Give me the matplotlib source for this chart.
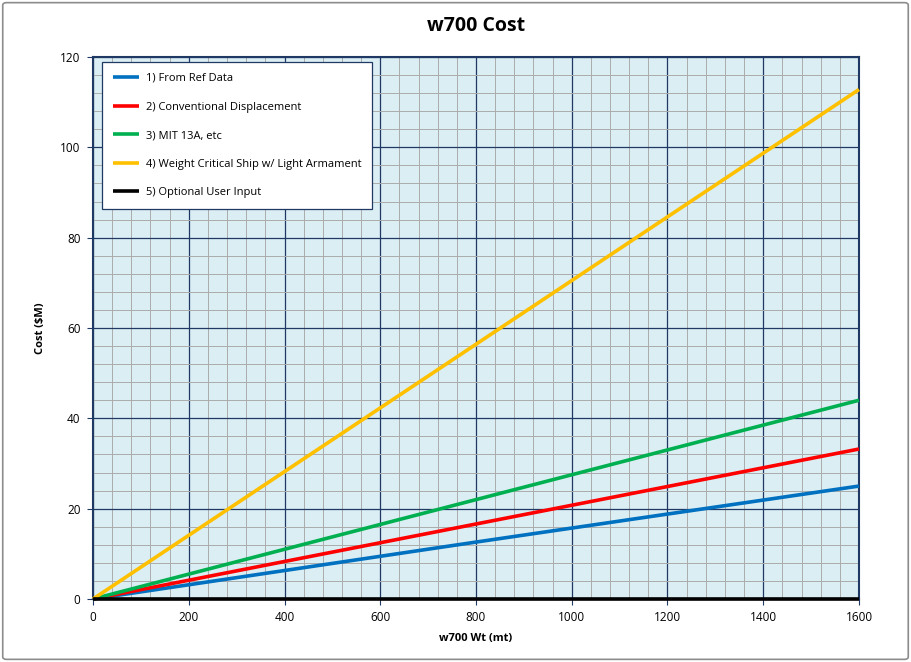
import matplotlib.pyplot as plt
from matplotlib.patches import FancyBboxPatch
from matplotlib.ticker import MultipleLocator

# data
wt = [0, 400, 800, 1200, 1600]
ref_data = [0, 6.3, 12.6, 18.8, 25.0]
conv_disp = [0, 8.3, 16.6, 24.9, 33.2]
mit_13a = [0, 11.0, 22.0, 33.0, 44.0]
weight_crit = [0, 28.2, 56.4, 84.6, 112.8]
user_input = [0, 0, 0, 0, 0]

labels = ['1) From Ref Data', '2) Conventional Displacement', '3) MIT 13A, etc',
          '4) Weight Critical Ship w/ Light Armament', '5) Optional User Input']
colors = ['#0070C0', '#FF0000', '#00B050', '#FFC000', '#000000']

plt.rcParams['font.family'] = ['Open Sans', 'DejaVu Sans']

fig = plt.figure(figsize=(9.11, 6.62), dpi=100)
# chart border
fig.patches.append(FancyBboxPatch((0.003, 0.004), 0.994, 0.992, boxstyle='round,pad=0,rounding_size=0.004',
                                  transform=fig.transFigure, fill=False, edgecolor='#8C8C8C', linewidth=1.2))
ax = fig.add_axes([0.1021, 0.0952, 0.8408, 0.8187])
ax.set_facecolor('#DAEEF3')

series = [ref_data, conv_disp, mit_13a, weight_crit, user_input]
for vals, lab, c in zip(series, labels, colors):
    ax.plot(wt, vals, color=c, linewidth=2.6, label=lab, solid_capstyle='butt', zorder=3, clip_on=False)

ax.set_xlim(0, 1600)
ax.set_ylim(0, 120)
ax.xaxis.set_major_locator(MultipleLocator(200))
ax.yaxis.set_major_locator(MultipleLocator(20))
ax.xaxis.set_minor_locator(MultipleLocator(40))
ax.yaxis.set_minor_locator(MultipleLocator(4))
ax.grid(which='minor', color='#ABABAB', linewidth=0.7, zorder=1)
ax.grid(which='major', color='#1F3864', linewidth=0.9, zorder=2)
ax.set_axisbelow(True)
ax.tick_params(which='minor', length=0)
ax.tick_params(which='major', length=4, color='#1F3864', labelsize=8.5, pad=5)
for s in ax.spines.values():
    s.set_color('#1F3864')
    s.set_linewidth(1.5)

ax.set_title('w700 Cost', fontsize=14, fontweight='bold', pad=19)
ax.set_xlabel('w700 Wt (mt)', fontsize=8, fontweight='bold', labelpad=6)
ax.set_ylabel('Cost ($M)', fontsize=8, fontweight='bold', labelpad=10)

leg = ax.legend(loc='upper left', bbox_to_anchor=(0.012, 0.99), fontsize=8, frameon=True, fancybox=False,
                handlelength=2.4, handletextpad=0.6, labelspacing=1.58, borderpad=0.95, borderaxespad=0)
leg.get_frame().set_edgecolor('#1F3864')
leg.get_frame().set_linewidth(0.9)
leg.get_frame().set_facecolor('white')
leg.get_frame().set_alpha(1)

plt.savefig('out.png', dpi=100)
